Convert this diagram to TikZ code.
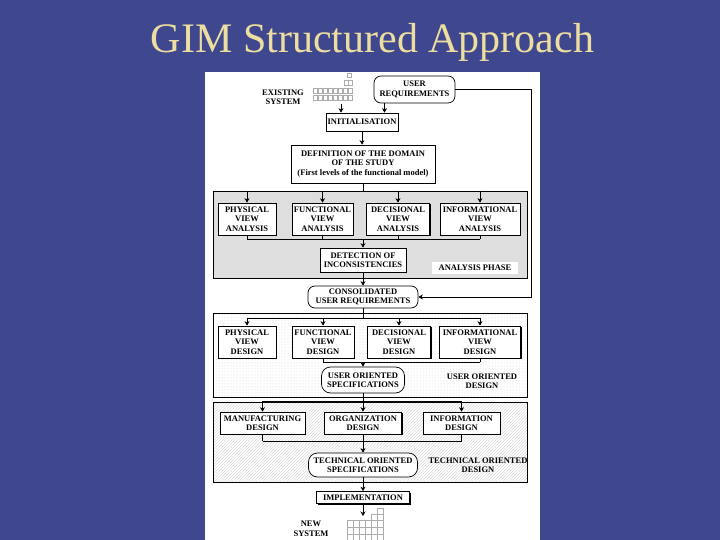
\documentclass[tikz,border=0pt]{standalone}
\usepackage{fontspec}
\setmainfont{Liberation Serif}
\usetikzlibrary{arrows.meta,shadows,patterns}
\definecolor{slideblue}{RGB}{63,71,142}
\definecolor{titlegold}{RGB}{236,221,160}
\definecolor{phasegray}{RGB}{222,222,222}
\newcommand{\boxfont}{\fontsize{8.5}{9.5}\selectfont\bfseries}
\tikzset{
  box/.style={draw, fill=white, line width=0.7pt, align=center, inner sep=1pt, font=\boxfont,
    drop shadow={shadow xshift=1.4pt, shadow yshift=-1.4pt, fill=black, opacity=1}},
  rbox/.style={draw, fill=white, line width=0.7pt, rounded corners=7pt, align=center, inner sep=1pt, font=\boxfont},
  spec/.style={rbox, rounded corners=9pt},
  phasetxt/.style={align=center, inner sep=1pt, font=\boxfont},
  flow/.style={-{Stealth[length=4.5pt,width=5pt]}, line width=0.7pt},
  link/.style={line width=0.7pt},
  brick/.style={draw=gray!65, line width=0.5pt}
}
\begin{document}
\begin{tikzpicture}[x=1pt,y=-1pt]
  \useasboundingbox (0,0) rectangle (720,540);
  \fill[slideblue] (0,0) rectangle (720,540);
  \node[font=\fontsize{42}{42}\selectfont, text=titlegold, anchor=base] (title) at (372.5,53) {GIM Structured Approach};
  \fill[white] (205,72) rectangle (540,540);

  % phase panels
  \draw[link, fill=phasegray] (213,191) rectangle (527,278);
  \draw[link, pattern=dots, pattern color=gray!35] (213,313) rectangle (527,397);
  \draw[link, pattern=north east lines, pattern color=gray!28] (213,402) rectangle (527,482);

  % existing and new system
  \foreach \yy in {88,95}
    \foreach \xx in {313,318,...,348}
      \draw[brick] (\xx,\yy) rectangle ++(4,5);
  \draw[brick] (347,73) rectangle ++(4,4);
  \draw[brick] (344,80) rectangle ++(4,5) (348,80) rectangle ++(4,5);
  \foreach \yy in {520,527,534}
    \foreach \xx in {347,353,...,377}
      \draw[brick] (\xx,\yy) rectangle ++(6,7);
  \draw[brick] (377,508) rectangle ++(6,6);
  \draw[brick] (371,514) rectangle ++(6,6) (377,514) rectangle ++(6,6);

  \node[phasetxt] (exist) at (283,97) {EXISTING\\SYSTEM};
  \node[rbox, minimum width=81pt, minimum height=27pt] (userreq) at (414.5,89.5) {USER\\REQUIREMENTS};
  \node[box, minimum width=72pt, minimum height=18pt] (init) at (362,122) {INITIALISATION};
  \node[box, minimum width=144pt, minimum height=38pt] (domain) at (363,164) {DEFINITION OF THE DOMAIN\\OF THE STUDY\\(First levels of the functional model)};

  % analysis phase
  \node[box, minimum width=58pt, minimum height=32pt] (pva) at (247,219) {PHYSICAL\\VIEW\\ANALYSIS};
  \node[box, minimum width=61pt, minimum height=32pt] (fva) at (322.5,219) {FUNCTIONAL\\VIEW\\ANALYSIS};
  \node[box, minimum width=63pt, minimum height=32pt] (dva) at (398,219) {DECISIONAL\\VIEW\\ANALYSIS};
  \node[box, minimum width=80pt, minimum height=32pt] (iva) at (480,219) {INFORMATIONAL\\VIEW\\ANALYSIS};
  \node[box, minimum width=86pt, minimum height=24pt] (detect) at (363,260) {DETECTION OF\\INCONSISTENCIES};
  \node[phasetxt, fill=white, minimum width=86pt, minimum height=12pt] (aphase) at (475,268) {ANALYSIS PHASE};
  \node[rbox, minimum width=110pt, minimum height=22pt] (consol) at (363,297) {CONSOLIDATED\\USER REQUIREMENTS};

  % user oriented design
  \node[box, minimum width=58pt, minimum height=32pt] (pvd) at (247,342) {PHYSICAL\\VIEW\\DESIGN};
  \node[box, minimum width=62pt, minimum height=32pt] (fvd) at (323,342) {FUNCTIONAL\\VIEW\\DESIGN};
  \node[box, minimum width=63pt, minimum height=32pt] (dvd) at (399,342) {DECISIONAL\\VIEW\\DESIGN};
  \node[box, minimum width=81pt, minimum height=32pt] (ivd) at (480,342) {INFORMATIONAL\\VIEW\\DESIGN};
  \node[spec, minimum width=83pt, minimum height=26pt] (uos) at (363,380) {USER ORIENTED\\SPECIFICATIONS};
  \node[phasetxt] (uodes) at (482,381) {USER ORIENTED\\DESIGN};

  % technical oriented design
  \node[box, minimum width=85pt, minimum height=22pt] (mfg) at (262.5,423) {MANUFACTURING\\DESIGN};
  \node[box, minimum width=77pt, minimum height=22pt] (org) at (363,423) {ORGANIZATION\\DESIGN};
  \node[box, minimum width=77pt, minimum height=22pt] (info) at (461.5,423) {INFORMATION\\DESIGN};
  \node[spec, minimum width=109pt, minimum height=24pt] (tos) at (363,465) {TECHNICAL ORIENTED\\SPECIFICATIONS};
  \node[phasetxt] (todes) at (478,465) {TECHNICAL ORIENTED\\DESIGN};
  \node[box, minimum width=93pt, minimum height=12pt] (impl) at (363,497.5) {IMPLEMENTATION};
  \node[phasetxt] (newtxt) at (311,529) {NEW\\SYSTEM};

  \coordinate (oldsys) at (341,104);
  \coordinate (newsys) at (363,516);
  \coordinate (fback) at (531,89.5);
  \coordinate (abus) at (363,191);
  \coordinate (acol) at (363,239);
  \coordinate (dbus) at (363,318);
  \coordinate (dcol) at (363,362);
  \coordinate (tbus) at (363,401);
  \coordinate (tcol) at (363,441);

  \draw[flow] (oldsys) -- (oldsys |- init.north);
  \draw[flow] ([xshift=-30pt]userreq.south) -- ([xshift=-30pt]userreq.south |- init.north);
  \draw[flow] (init.south) -- (init.south |- domain.north);
  \draw[flow] (userreq.east) -- (fback) |- (consol.east);

  \draw[link] (domain.south) -- (abus);
  \draw[link] (pva |- abus) -- (iva |- abus);
  \foreach \v in {pva,fva,dva,iva}
    \draw[flow] (\v |- abus) -- (\v.north);
  \foreach \v in {pva,fva,dva,iva}
    \draw[link] (\v.south) -- (\v |- acol);
  \draw[link] (pva |- acol) -- (iva |- acol);
  \draw[flow] (acol) -- (detect.north);
  \draw[flow] (detect.south) -- (consol.north);

  \draw[link] (consol.south) -- (dbus);
  \draw[link] (pvd |- dbus) -- (ivd |- dbus);
  \foreach \v in {pvd,fvd,dvd,ivd}
    \draw[flow] (\v |- dbus) -- (\v.north);
  \foreach \v in {fvd,ivd}
    \draw[link] (\v.south) -- (\v |- dcol);
  \draw[link] (fvd |- dcol) -- (ivd |- dcol);
  \draw[flow] (dcol) -- (uos.north);

  \draw[link] (uos.south) -- (tbus);
  \draw[link] (mfg |- tbus) -- (info |- tbus);
  \foreach \v in {mfg,org,info}
    \draw[flow] (\v |- tbus) -- (\v.north);
  \foreach \v in {mfg,info}
    \draw[link] (\v.south) -- (\v |- tcol);
  \draw[link] (mfg |- tcol) -- (info |- tcol);
  \draw[flow] (org.south) -- (tos.north);
  \draw[flow] (tos.south) -- (impl.north);
  \draw[flow] (impl.south) -- (newsys);
\end{tikzpicture}
\end{document}
